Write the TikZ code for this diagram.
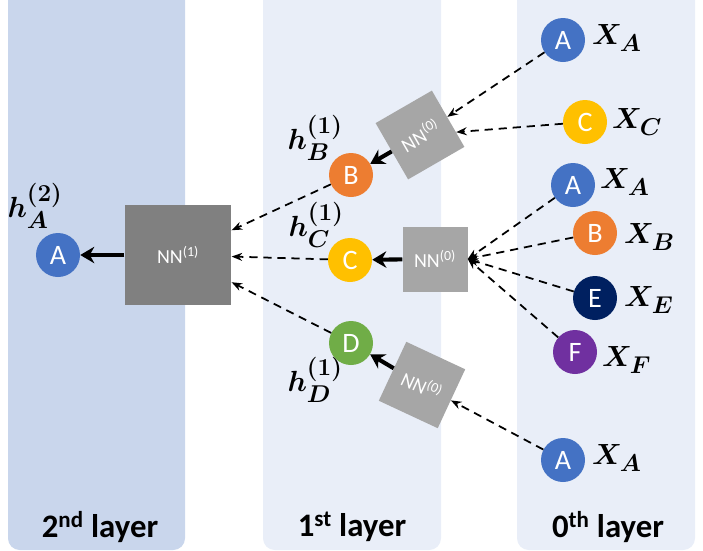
\documentclass[tikz,border=0pt]{standalone}
\usepackage{amsmath,bm}
\usepackage{fontspec}
\newfontfamily\carlito{Carlito}
\usetikzlibrary{arrows.meta}
\definecolor{pdark}{HTML}{C9D6EC}
\definecolor{plight}{HTML}{E9EEF8}
\definecolor{nblue}{HTML}{4472C4}
\definecolor{norange}{HTML}{ED7D31}
\definecolor{nyellow}{HTML}{FFC000}
\definecolor{ngreen}{HTML}{70AD47}
\definecolor{nnavy}{HTML}{002060}
\definecolor{npurple}{HTML}{7030A0}
\tikzset{x=0.03cm, y=-0.03cm,
every node/.style={font=\carlito\fontsize{24}{28}\selectfont},
vert/.style={ % graph nodes
circle, minimum size=1.32cm, inner sep=0pt, text=white},
nn/.style={ % neural network boxes
fill=black!35, minimum size=1.95cm, inner sep=0pt, text=white,
font=\carlito\fontsize{17}{20}\selectfont},
lbl/.style={font=\fontsize{28}{32}\selectfont},
msg/.style={draw, line width=1.5pt, dash pattern=on 7pt off 5pt, -{Stealth[length=9pt]}},
agg/.style={draw, line width=3.5pt, -{Stealth[length=12pt,width=14pt]}},
layer/.style={font=\carlito\bfseries\fontsize{28}{32}\selectfont}}
\begin{document}
\begin{tikzpicture}
    \useasboundingbox (0,0) rectangle (703,550);
    
    \fill[pdark, rounded corners=10] (8,-20) rectangle (185,550);
    \fill[plight, rounded corners=10] (263,-20) rectangle (441,550);
    \fill[plight, rounded corners=10] (517,-20) rectangle (695,550);
    
    \node[layer] (l2) at (100,527) {2\textsuperscript{nd} layer};
    \node[layer] (l1) at (352,527) {1\textsuperscript{st} layer};
    \node[layer] (l0) at (608,527) {0\textsuperscript{th} layer};
    
    \node[vert, fill=nblue] (a2) at (58,255) {A};
    \node[nn, fill=black!50, minimum width=3.2cm, minimum height=3cm] (nn1) at (178,255) {NN\textsuperscript{(1)}};
    
    \node[vert, fill=norange] (b1) at (351,175) {B};
    \node[vert, fill=nyellow] (c1) at (350,260) {C};
    \node[vert, fill=ngreen] (d1) at (351,343) {D};
    
    \node[nn, rotate=30] (nnb) at (420,135) {NN\textsuperscript{(0)}};
    \node[nn] (nnc) at (435,259) {NN\textsuperscript{(0)}};
    \node[nn, rotate=-25] (nnd) at (422,385) {NN\textsuperscript{(0)}};
    
    \node[vert, fill=nblue] (ab) at (563,40) {A};
    \node[vert, fill=nyellow] (cb) at (585,122) {C};
    \node[vert, fill=nblue] (ac) at (573,185) {A};
    \node[vert, fill=norange] (bc) at (595,233) {B};
    \node[vert, fill=nnavy] (ec) at (595,298) {E};
    \node[vert, fill=npurple] (fc) at (575,352) {F};
    \node[vert, fill=nblue] (ad) at (563,460) {A};
    
    \node[lbl, right] (xab) at (588,38) {$\bm{X_A}$};
    \node[lbl, right] (xcb) at (608,122) {$\bm{X_C}$};
    \node[lbl, right] (xac) at (596,182) {$\bm{X_A}$};
    \node[lbl, right] (xbc) at (620,237) {$\bm{X_B}$};
    \node[lbl, right] (xec) at (620,300) {$\bm{X_E}$};
    \node[lbl, right] (xfc) at (598,360) {$\bm{X_F}$};
    \node[lbl, right] (xad) at (588,458) {$\bm{X_A}$};
    
    \node[lbl] (ha) at (35,206) {$\bm{h_A^{(2)}}$};
    \node[lbl] (hb) at (315,138) {$\bm{h_B^{(1)}}$};
    \node[lbl] (hc) at (316,225) {$\bm{h_C^{(1)}}$};
    \node[lbl] (hd) at (315,380) {$\bm{h_D^{(1)}}$};
    
    \draw[msg] (ab) -- (nnb);
    \draw[msg] (cb) -- (nnb);
    \draw[msg] (ac) -- (nnc.east);
    \draw[msg] (bc) -- (nnc.east);
    \draw[msg] (ec) -- (nnc.east);
    \draw[msg] (fc) -- (nnc.east);
    \draw[msg] (ad) -- (nnd);
    
    \draw[agg] (nnb) -- (b1);
    \draw[agg] (nnc) -- (c1);
    \draw[agg] (nnd) -- (d1);
    
    \draw[msg] (b1) -- (nn1);
    \draw[msg] (c1) -- (nn1);
    \draw[msg] (d1) -- (nn1);
    \draw[agg] (nn1) -- (a2);
    
\end{tikzpicture}
\end{document}
